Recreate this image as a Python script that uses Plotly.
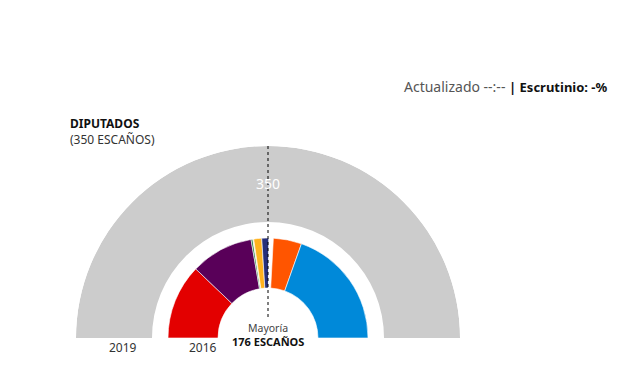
import plotly.graph_objects as go

# ---- data ----
partidos_2016 = ["PSOE", "Unidos Podemos", "EH Bildu", "CC", "ERC", "CDC", "PNV", "Cs", "PP"]
escanos_2016 = [85, 71, 2, 1, 9, 8, 5, 32, 137]
colores_2016 = ["#e30000", "#590059", "#1b7a3c", "#f2e39a", "#ffb21e", "#27307a", "#ffffff", "#ff5500", "#0089d9"]
partidos_2019 = ["Sin datos"]
escanos_2019 = [350]
colores_2019 = ["#cccccc"]
total = 350
mayoria = 176

W, H = 624, 385
OFF = 8  # page body margin

def arcs(values):
    thetas, widths = [], []
    acc = 0
    for v in values:
        thetas.append((acc + v / 2) * 180 / total)
        widths.append(v * 180 / total)
        acc += v
    return thetas, widths

fig = go.Figure()

t19, w19 = arcs(escanos_2019)
fig.add_trace(go.Barpolar(
    theta=t19, width=w19, r=[192 - 116] * len(t19), base=[116] * len(t19),
    marker=dict(color=colores_2019, line=dict(color="white", width=0)),
    text=partidos_2019, hoverinfo="text", showlegend=False))

t16, w16 = arcs(escanos_2016)
fig.add_trace(go.Barpolar(
    theta=t16, width=w16, r=[100 - 50] * len(t16), base=[50] * len(t16),
    marker=dict(color=colores_2016, line=dict(color="white", width=0.6)),
    text=partidos_2016, hoverinfo="text", showlegend=False))

# majority line
fig.add_trace(go.Scatterpolar(
    theta=[(total / 2) * 180 / total] * 2, r=[21, 192], mode="lines",
    line=dict(color="black", width=1, dash="dot"), hoverinfo="skip", showlegend=False))

# 350 label
fig.add_trace(go.Scatterpolar(
    theta=[90], r=[153], mode="text", text=[str(sum(escanos_2019))],
    textfont=dict(color="white", size=14, family="Noto Sans"), hoverinfo="skip", showlegend=False))

cx0, cx1 = (76 - OFF) / W, (460 - OFF) / W
cy0, cy1 = 1 - (338 - OFF) / H, 1 - (146 - OFF) / H

fig.update_layout(
    width=W, height=H, margin=dict(l=0, r=0, t=0, b=0),
    paper_bgcolor="white", plot_bgcolor="white",
    font=dict(family="Noto Sans", color="#333"),
    polar=dict(
        domain=dict(x=[cx0, cx1], y=[cy0, cy1]),
        sector=[0, 180], hole=0, bgcolor="rgba(0,0,0,0)",
        bargap=0,
        angularaxis=dict(direction="clockwise", rotation=180, visible=False,
                         showgrid=False, showline=False, showticklabels=False, ticks=""),
        radialaxis=dict(range=[0, 192], visible=False, showgrid=False,
                        showline=False, showticklabels=False, ticks=""),
    ),
)

def ann(text, px, py, size, color="#333", xanchor="center", bold=False):
    fig.add_annotation(x=(px - OFF) / W, y=1 - (py - OFF) / H, xref="paper", yref="paper",
                       text=("<b>%s</b>" % text) if bold else text, showarrow=False,
                       xanchor=xanchor, yanchor="middle", borderpad=0,
                       font=dict(size=size, color=color, family="Noto Sans"))

ann("Actualizado --:-- <b style='color:#111;font-size:13px'>| Escrutinio: -%</b>", 609, 87, 14, "#555", xanchor="right")
ann("DIPUTADOS", 69, 123.5, 12, "#111", xanchor="left", bold=True)
ann("(350 ESCAÑOS)", 69, 139.5, 12, "#333", xanchor="left")
ann("Mayoría", 268, 327.5, 10.5, "#444")
ann("%d ESCAÑOS" % mayoria, 268, 341, 11, "#111", bold=True)
ann("2019", 123, 347, 12, "#333")
ann("2016", 203, 347, 12, "#333")

fig.write_html("out.html")
